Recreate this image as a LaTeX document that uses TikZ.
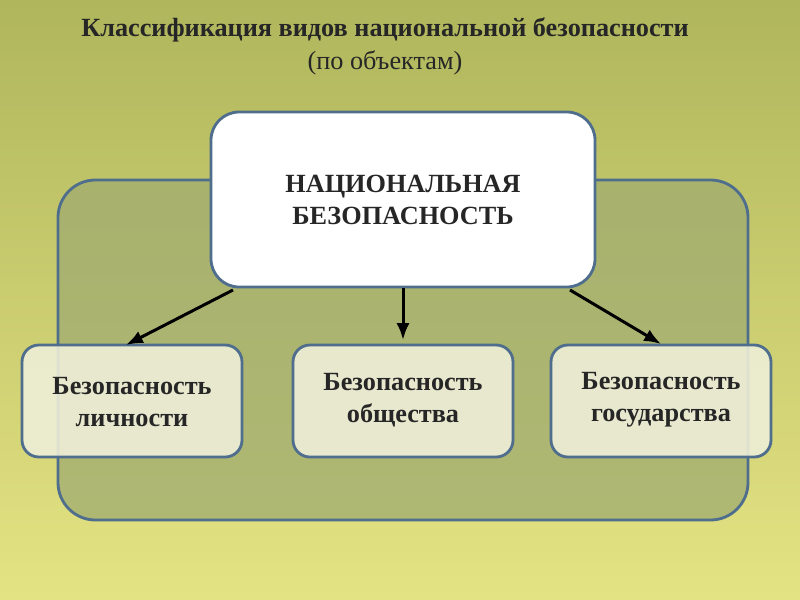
\documentclass[tikz,border=0pt]{standalone}
\usepackage{fontspec}
\setmainfont{Liberation Serif}
\begin{document}
\begin{tikzpicture}[x=0.0375cm,y=-0.0375cm,
  bx/.style={draw=frame,line width=3pt,rounded corners=18pt},
  lbl/.style={font=\bfseries\fontsize{28pt}{34pt}\selectfont,align=center,text=black!85},
  arr/.style={-{Latex[length=18pt,width=14pt]},line width=3.2pt,black}]
\usetikzlibrary{arrows.meta}
\definecolor{frame}{HTML}{4F6D8C}
\shade[left color={rgb,255:red,172;green,180;blue,92},right color={rgb,255:red,236;green,234;blue,138},shading angle=0] (0,0) rectangle (800,600);
\shade[top color={rgb,255:red,180;green,185;blue,92},bottom color={rgb,255:red,220;green,220;blue,125},opacity=0.45] (0,0) rectangle (800,600);
\useasboundingbox (0,0) rectangle (800,600);
\node[font=\bfseries\fontsize{28pt}{34pt}\selectfont,text=black!85] (t1) at (385,30) {Классификация видов национальной безопасности};
\node[font=\fontsize{28pt}{34pt}\selectfont,text=black!85] (t2) at (385,63) {(по объектам)};
\draw[bx,fill={rgb,255:red,160;green,172;blue,112},fill opacity=0.75,rounded corners=40pt] (58,180) rectangle (748,520);
\draw[bx,fill=white,rounded corners=30pt] (211,112) rectangle (595,287);
\node[lbl] (top) at (403,200) {НАЦИОНАЛЬНАЯ\\БЕЗОПАСНОСТЬ};
\coordinate (topL) at (233,290); \coordinate (topM) at (403,288); \coordinate (topR) at (570,290);
\draw[bx,fill={rgb,255:red,238;green,238;blue,215},fill opacity=0.9] (22,345) rectangle (242,457);
\draw[bx,fill={rgb,255:red,238;green,238;blue,215},fill opacity=0.9] (293,345) rectangle (513,457);
\draw[bx,fill={rgb,255:red,238;green,238;blue,215},fill opacity=0.9] (551,345) rectangle (771,457);
\node[lbl] (b1) at (132,402) {Безопасность\\личности};
\node[lbl] (b2) at (403,400) {Безопасность\\общества};
\node[lbl] (b3) at (661,400) {Безопасность\\государства};
\coordinate (e1) at (126,345); \coordinate (e2) at (403,340); \coordinate (e3) at (661,344);
\draw[arr] (topL) -- (e1);
\draw[arr] (topM) -- (e2);
\draw[arr] (topR) -- (e3);
\end{tikzpicture}
\end{document}
